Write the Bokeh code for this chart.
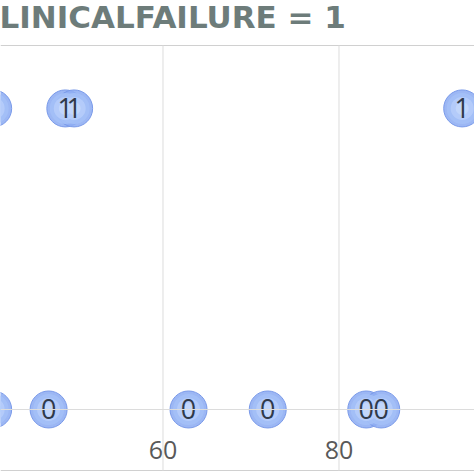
from bokeh.plotting import figure
from bokeh.models import Range1d, LinearAxis, FixedTicker, ColumnDataSource, Label
from bokeh.core.properties import value
from bokeh.embed import file_html
from bokeh.resources import INLINE

# ---- data ----
title_text = "LINICALFAILURE = 1"
x_ticks = [40, 60, 80, 100]
y_frame_lines = [-0.203, 1.209]

x_fail = [40.7, 48.9, 49.9, 94.0]
y_fail = [1, 1, 1, 1]
lab_fail = ["1", "1", "1", "1"]

x_ok = [40.7, 47.0, 62.9, 71.9, 83.1, 84.8]
y_ok = [0, 0, 0, 0, 0, 0]
lab_ok = ["0", "0", "0", "0", "0", "0"]

src = ColumnDataSource(dict(
    x=x_fail + x_ok,
    y=y_fail + y_ok,
    label=lab_fail + lab_ok,
))

p = figure(width=474, height=474,
           x_range=Range1d(41.534, 95.398), y_range=Range1d(-0.216, 1.3585),
           output_backend="svg", toolbar_location=None,
           x_axis_location=None, y_axis_location=None,
           min_border=0,
           outline_line_color=None,
           background_fill_color="white", border_fill_color="white")

# plot-area top/bottom borders
p.xgrid.visible = False
p.ygrid.ticker = FixedTicker(ticks=y_frame_lines)
p.ygrid.grid_line_color = "#d0d0d0"

# vertical gridlines, limited to the plot area
p.segment(x0=x_ticks, y0=[y_frame_lines[0]] * len(x_ticks),
          x1=x_ticks, y1=[y_frame_lines[1]] * len(x_ticks),
          line_color="#dcdcdc", line_width=1)

xaxis = LinearAxis(fixed_location=0, ticker=FixedTicker(ticks=x_ticks),
                   axis_line_color="#dcdcdc",
                   major_tick_line_color=None, minor_tick_line_color=None,
                   major_label_text_font="Open Sans",
                   major_label_text_font_size="25px",
                   major_label_text_color="#595959",
                   major_label_standoff=26)
p.add_layout(xaxis, "below")

# bubbles (layered to imitate the shaded look)
p.scatter("x", "y", source=src, size=37, fill_color="#8eadf3",
          line_color="#7a9ae9", line_width=1, fill_alpha=0.88)
p.scatter("x", "y", source=src, size=31, fill_color="#a4c0f7",
          line_color=None, fill_alpha=0.88)
p.scatter("x", "y", source=src, size=23, fill_color="#b6cdfa",
          line_color=None, fill_alpha=0.88)
p.scatter("x", "y", source=src, size=13, fill_color="#c4d7fb",
          line_color=None, fill_alpha=0.88)

p.text("x", "y", text="label", source=src,
       text_font=value("Open Sans"), text_font_size="27px",
       text_align="center", text_baseline="middle", text_color="#303a4a")

# chart title, above the plot-area border
title = Label(x=-1, x_units="screen", y=1.305, y_units="data",
              text=title_text, text_font="DejaVu Sans", text_font_style="bold",
              text_font_size="31px", text_color="#6d7c7a",
              text_align="left", text_baseline="alphabetic")
p.add_layout(title)

open("out.html", "w").write(file_html(p, INLINE))
